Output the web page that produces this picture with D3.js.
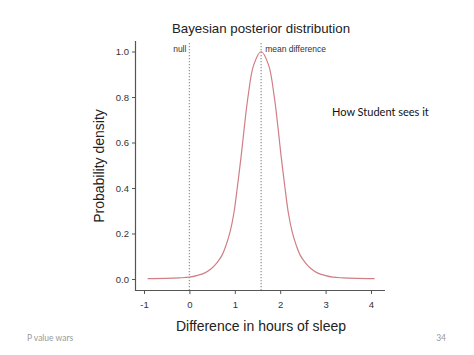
<!DOCTYPE html>
<html>
<head>
<meta charset="utf-8">
<script src="https://cdn.jsdelivr.net/npm/d3@7"></script>
<style>
  body { margin: 0; background: #fff; }
  svg { display: block; }
</style>
</head>
<body>
<div id="chart"></div>
<script>
// values
const diffHours = [-0.92, -0.52, -0.22, 0, 0.18, 0.33, 0.48, 0.6, 0.72, 0.81, 0.9, 0.98, 1.06, 1.14, 1.2, 1.29, 1.415, 1.58,
    1.745, 1.87, 1.96, 2.02, 2.1, 2.18, 2.26, 2.35, 2.44, 2.56, 2.68, 2.83, 2.98, 3.16, 3.38, 3.68, 4.08];
const density = [0.002, 0.003, 0.005, 0.008, 0.016, 0.026, 0.045, 0.07, 0.105, 0.15, 0.21, 0.29, 0.41, 0.54, 0.65, 0.8, 0.94, 1.0,
    0.94, 0.8, 0.65, 0.54, 0.41, 0.29, 0.21, 0.15, 0.105, 0.07, 0.045, 0.026, 0.016, 0.008, 0.005, 0.003, 0.002];
const xTicks = [-1, 0, 1, 2, 3, 4];
const yTicks = [0, 0.2, 0.4, 0.6, 0.8, 1.0];
const nullValue = 0;
const meanDiff = 1.58;

const width = 474, height = 355;
const font = "'Liberation Sans', Arial, sans-serif";

const svg = d3.select("#chart").append("svg")
    .attr("width", width)
    .attr("height", height)
    .style("font-family", font);

const x = d3.scaleLinear().domain([-1, 4]).range([144, 371]);
const y = d3.scaleLinear().domain([0, 1]).range([279, 51.5]);

const axisColor = "#555";

// axis lines
svg.append("line")
    .attr("x1", 136).attr("x2", 385).attr("y1", 290.5).attr("y2", 290.5)
    .attr("stroke", axisColor).attr("stroke-width", 1.2);
svg.append("line")
    .attr("x1", 135.5).attr("x2", 135.5).attr("y1", 41).attr("y2", 291)
    .attr("stroke", axisColor).attr("stroke-width", 1.2);

const xAxis = svg.append("g")
    .attr("transform", "translate(0,290.5)")
    .call(d3.axisBottom(x).tickValues(xTicks).tickSize(3.5).tickPadding(7).tickFormat(d => String(d)));
xAxis.select(".domain").remove();

const yAxis = svg.append("g")
    .attr("transform", "translate(135.5,0)")
    .call(d3.axisLeft(y).tickValues(yTicks).tickSize(3.5).tickPadding(3).tickFormat(d3.format(".1f")));
yAxis.select(".domain").remove();

svg.selectAll(".tick line").attr("stroke", axisColor);
svg.selectAll(".tick text")
    .attr("fill", "#333")
    .style("font-size", "9.5px")
    .style("font-family", font);

// dotted reference lines
[nullValue, meanDiff].forEach(v => {
    svg.append("line")
        .attr("x1", x(v)).attr("x2", x(v))
        .attr("y1", 43).attr("y2", 290)
        .attr("stroke", "#999")
        .attr("stroke-width", 1.3)
        .attr("stroke-dasharray", "1.3,1.7");
});

svg.append("text")
    .attr("x", x(nullValue) - 3).attr("y", 52)
    .attr("text-anchor", "end")
    .style("font-size", "8.5px")
    .attr("fill", "#333")
    .text("null");

svg.append("text")
    .attr("x", x(meanDiff) + 4).attr("y", 52)
    .style("font-size", "8.5px")
    .attr("fill", "#333")
    .text("mean difference");

// posterior curve
const pts = diffHours.map((d, i) => [d, density[i]]);
const line = d3.line()
    .x(d => x(d[0]))
    .y(d => y(d[1]))
    .curve(d3.curveCatmullRom.alpha(0.5));

svg.append("path")
    .datum(pts)
    .attr("d", line)
    .attr("fill", "none")
    .attr("stroke", "#cf7f85")
    .attr("stroke-width", 1.2);

// titles
svg.append("text")
    .attr("x", 261).attr("y", 33)
    .attr("text-anchor", "middle")
    .style("font-size", "13.3px")
    .attr("fill", "#222")
    .text("Bayesian posterior distribution");

svg.append("text")
    .attr("x", 261).attr("y", 331)
    .attr("text-anchor", "middle")
    .style("font-size", "14px")
    .attr("fill", "#222")
    .text("Difference in hours of sleep");

svg.append("text")
    .attr("transform", "translate(104,166) rotate(-90)")
    .attr("text-anchor", "middle")
    .style("font-size", "14px")
    .attr("fill", "#222")
    .text("Probability density");

svg.append("text")
    .attr("x", 332).attr("y", 116)
    .style("font-size", "11px")
    .style("font-family", "Lato, 'Open Sans', sans-serif")
    .attr("fill", "#111")
    .text("How Student sees it");

// footer
svg.append("text")
    .attr("x", 27).attr("y", 341)
    .style("font-size", "8.5px")
    .style("font-family", "Lato, 'Open Sans', sans-serif")
    .attr("fill", "#999")
    .text("P value wars");

svg.append("text")
    .attr("x", 446).attr("y", 341)
    .attr("text-anchor", "end")
    .style("font-size", "8.5px")
    .style("font-family", "Lato, 'Open Sans', sans-serif")
    .attr("fill", "#999")
    .text("34");
</script>
</body>
</html>
